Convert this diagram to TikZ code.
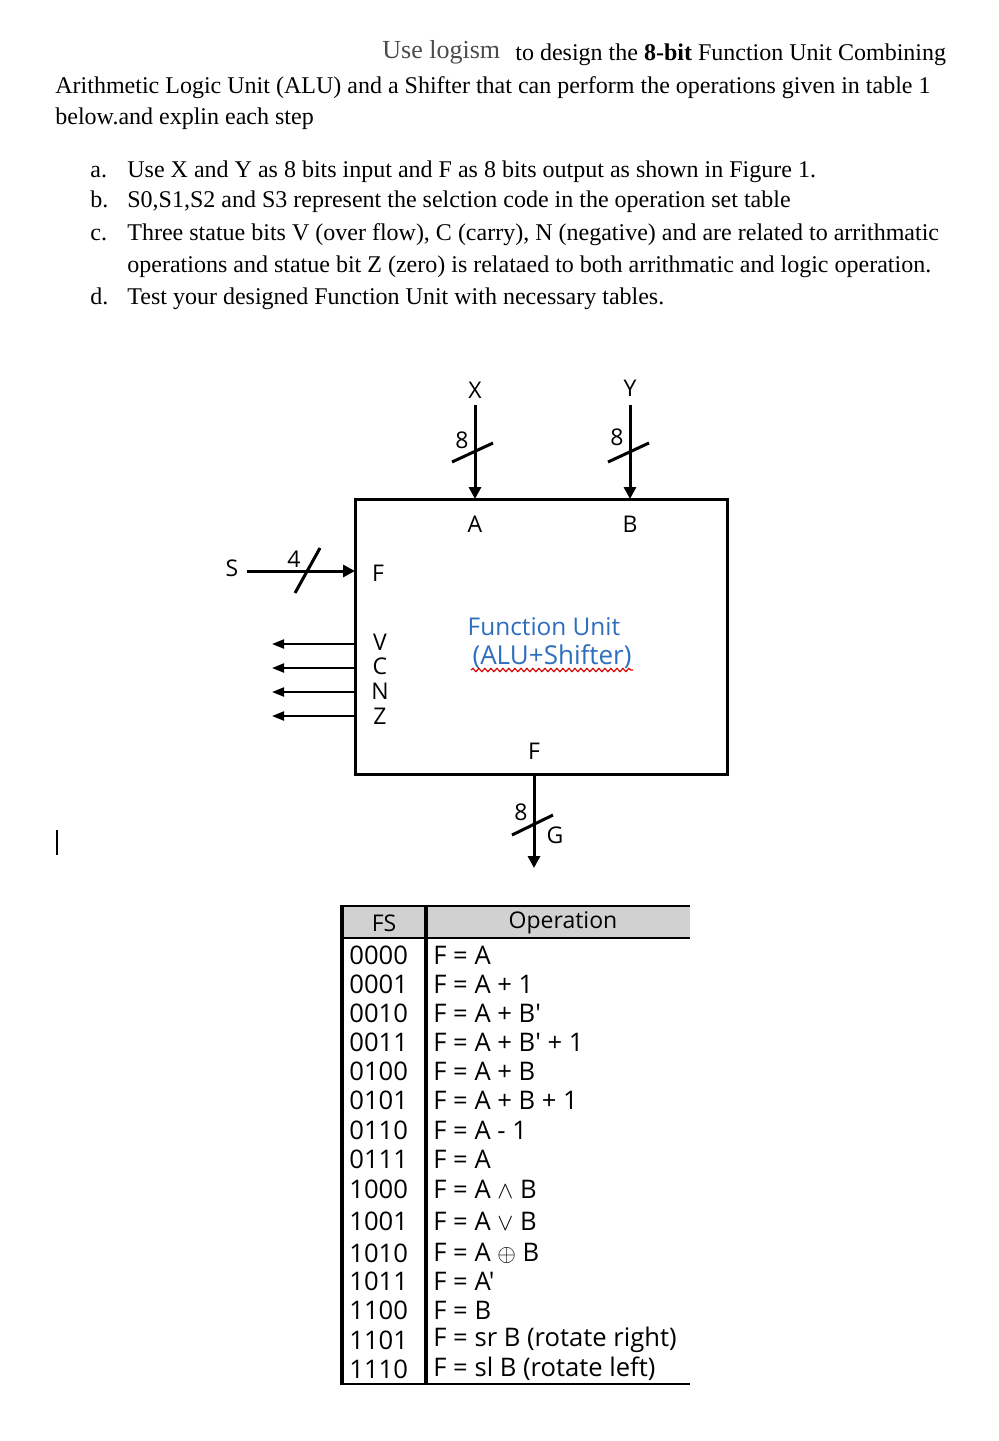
\documentclass[tikz,border=0pt]{standalone}
\usepackage{fontspec}
\setmainfont{Liberation Serif}
\newfontfamily\dia{Open Sans}
\usetikzlibrary{arrows.meta,decorations.pathmorphing}
\begin{document}
\begin{tikzpicture}[x=0.5pt,y=-0.5pt,
  body/.style={anchor=base west, inner sep=0, font=\fontsize{12}{14}\selectfont},
  dtext/.style={inner sep=0, font=\dia\fontsize{11.5}{13}\selectfont},
  ttext/.style={inner sep=0, anchor=west, font=\dia\fontsize{12.8}{14}\selectfont},
  wire/.style={line width=1.5pt, -{Triangle[length=6pt,width=6pt]}},
  thinwire/.style={line width=1pt, -{Triangle[length=6pt,width=4.5pt]}},
  busslash/.style={line width=1.5pt},
  tline/.style={line width=1.2pt}]
\useasboundingbox (0,0) rectangle (999,1441);
\fill[white] (0,0) rectangle (999,1441);
% ---- heading text
\node[body, font=\fontsize{13}{15}\selectfont, text=black!70] (uselog) at (382,58) {Use logism};
\node[body] (l1) at (515,60) {to design the \textbf{8-bit} Function Unit Combining};
\node[body] (l2) at (55,93) {Arithmetic Logic Unit (ALU) and a Shifter that can perform the operations given in table 1};
\node[body] (l3) at (55,124) {below.and explin each step};
\node[body] (ia) at (90,177) {a.};
\node[body] (ta) at (127,177) {Use X and Y as 8 bits input and F as 8 bits output as shown in Figure 1.};
\node[body] (ib) at (90,207) {b.};
\node[body] (tb) at (127,207) {S0,S1,S2 and S3 represent the selction code in the operation set table};
\node[body] (ic) at (90,240) {c.};
\node[body] (tc) at (127,240) {Three statue bits V (over flow), C (carry), N (negative) and are related to arrithmatic};
\node[body] (tc2) at (127,272) {operations and statue bit Z (zero) is relataed to both arrithmatic and logic operation.};
\node[body] (id) at (90,304) {d.};
\node[body] (td) at (127,304) {Test your designed Function Unit with necessary tables.};
% cursor mark
\draw[line width=0.8pt] (57,830) -- (57,855);
% ---- function unit box
\node[draw, line width=1.5pt, minimum width=186pt, minimum height=137.5pt, inner sep=0] (fu) at (541,636.5) {};
\coordinate (ain) at (475,499);
\coordinate (bin) at (630,499);
\coordinate (sin) at (355,571);
\coordinate (fout) at (534,774);
\coordinate (gend) at (534,868);
\node[dtext] (xlbl) at (475,390) {X};
\node[dtext] (ylbl) at (630,388) {Y};
\draw[wire] (xlbl.south) ++(0,6) coordinate (xs) -- (ain);
\draw[wire] (ylbl.south) ++(0,8) coordinate (ys) -- (bin);
\draw[busslash] (452,462) -- (493,443);
\draw[busslash] (608,462) -- (649,443);
\node[dtext] (x8) at (462,440) {8};
\node[dtext] (y8) at (617,437) {8};
\node[dtext] (alb) at (475,524) {A};
\node[dtext] (blb) at (630,524) {B};
\node[dtext] (slbl) at (232,568) {S};
\draw[wire] (slbl.east) ++(8,3) coordinate (ss) -- (sin);
\draw[busslash] (295,593) -- (320,548);
\node[dtext] (s4) at (294,559) {4};
\node[dtext] (flb) at (378,573) {F};
\node[dtext] (vlb) at (380,642) {V};
\node[dtext] (clb) at (380,666) {C};
\node[dtext] (nlb) at (380,691) {N};
\node[dtext] (zlb) at (380,716) {Z};
\coordinate (vo) at (272,644);
\coordinate (co) at (272,668);
\coordinate (no) at (272,692);
\coordinate (zo) at (272,716);
\draw[thinwire] (355,644) -- (vo);
\draw[thinwire] (355,668) -- (co);
\draw[thinwire] (355,692) -- (no);
\draw[thinwire] (355,716) -- (zo);
\node[dtext, text={rgb,255:red,46;green,110;blue,190}, font=\dia\fontsize{12.2}{14}\selectfont] (fun) at (544,627) {Function Unit};
\node[dtext, text={rgb,255:red,46;green,110;blue,190}, font=\dia\fontsize{13}{14}\selectfont] (alush) at (552,657) {(ALU+Shifter)};
\draw[red!85!black, line width=0.6pt, decorate, decoration={snake, amplitude=0.8pt, segment length=3pt}] (471,670) -- (633,670);
\node[dtext] (flb2) at (534,751) {F};
\draw[wire] (fout) -- (gend);
\draw[busslash] (512,835) -- (553,815);
\node[dtext] (g8) at (521,812) {8};
\node[dtext] (glb) at (555,835) {G};
% ---- table
\fill[black!18] (342,906) rectangle (690,938);
\draw[tline] (342,906) -- (690,906);
\draw[tline] (342,938) -- (690,938);
\draw[line width=1.6pt] (342,905) -- (342,1385);
\draw[line width=1.6pt] (426,906) -- (426,1384);
\draw[tline] (342,1384) -- (690,1384);
\node[dtext] (hfs) at (384,923) {FS};
\node[dtext] (hop) at (563,923) {Operation};
\foreach \y/\c/\o [count=\i] in {
  955/0000/{F = A},
  984/0001/{F = A + 1},
  1013/0010/{F = A + B'},
  1042/0011/{F = A + B' + 1},
  1071/0100/{F = A + B},
  1100/0101/{F = A + B + 1},
  1130/0110/{F = A - 1},
  1159/0111/{F = A},
  1189/1000/{F = A $\wedge$ B},
  1221/1001/{F = A $\vee$ B},
  1253/1010/{F = A $\oplus$ B},
  1281/1011/{F = A'},
  1310/1100/{F = B},
  1340/1101/{F = sr B (rotate right)},
  1369/1110/{F = sl B (rotate left)}} {
  \node[ttext] (fs\i) at (349,\y) {\c};
  \node[ttext] (op\i) at (433,\y) {\o};
}
\end{tikzpicture}
\end{document}
